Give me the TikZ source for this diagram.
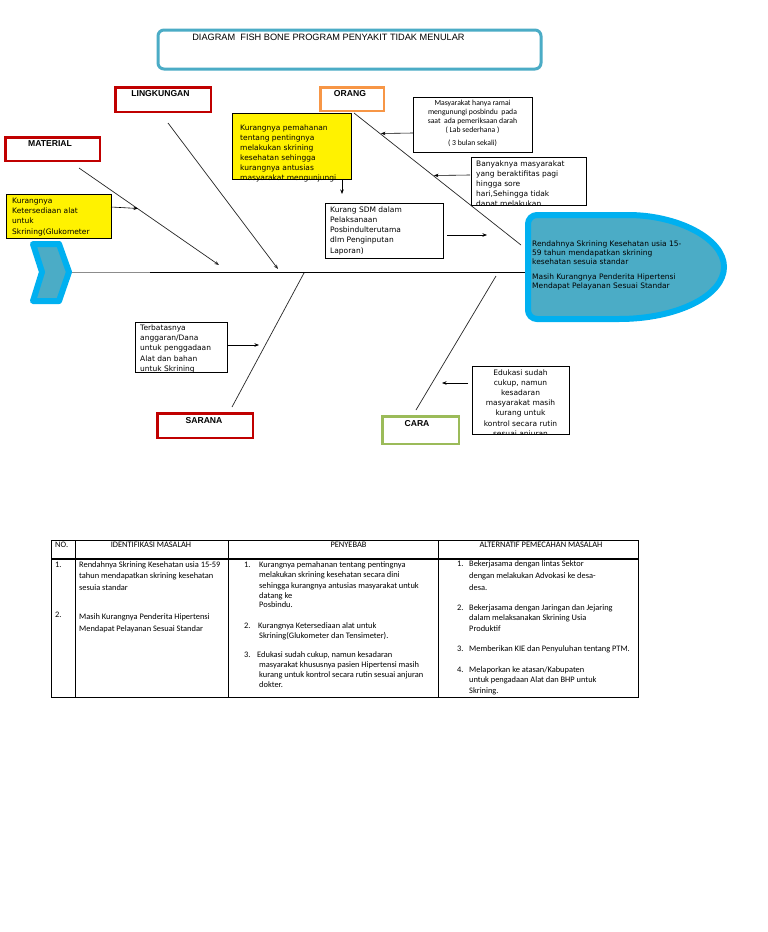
\documentclass[tikz,border=0pt]{standalone}
\usepackage{fontspec}
\setmainfont{DejaVu Sans}
\newfontfamily\arialf{Liberation Sans}
\newfontfamily\calf{Carlito}
\usetikzlibrary{arrows.meta}
\definecolor{titleblue}{HTML}{4BACC6}
\definecolor{catred}{HTML}{C00000}
\definecolor{catorange}{HTML}{F79646}
\definecolor{catgreen}{HTML}{9BBB59}
\definecolor{headfill}{HTML}{4BACC6}
\definecolor{headborder}{HTML}{00B0F0}
\newcommand\txtlines[6]{\foreach \tline [count=\i] in {#6} {\node[#1] (#2\i) at (#3,{#4+(\i-1)*#5}) {\tline};}}
\begin{document}
\begin{tikzpicture}[x=1pt,y=-1pt,
  dv/.style={font=\fontsize{7.5}{9}\selectfont, inner sep=0pt, anchor=base west},
  dvc/.style={dv, anchor=base},
  cal/.style={font=\calf\fontsize{7.7}{9}\selectfont, inner sep=0pt, anchor=base},
  tab/.style={font=\calf\fontsize{8.4}{10}\selectfont, inner sep=0pt, anchor=base west},
  tabc/.style={tab, anchor=base},
  cat/.style={font=\arialf\bfseries\fontsize{8.6}{10}\selectfont, inner sep=0pt},
  catbox/.style={draw, line width=2.6pt, inner sep=0pt, anchor=north west},
  causebox/.style={draw, line width=0.8pt, inner sep=0pt, anchor=north west},
  bone/.style={line width=0.7pt, black!85},
  arr/.style={line width=0.6pt, -{Stealth[length=4.5pt,width=3.5pt]}}
]
\useasboundingbox (0,0) rectangle (768,932);
\fill[white] (0,0) rectangle (768,932);

% ---------- title ----------
\node[draw=titleblue, line width=3pt, rounded corners=6pt, inner sep=0pt, anchor=north west,
      minimum width=383, minimum height=39] (titlebox) at (156.5,28.5) {};
\node[font=\arialf\fontsize{9.2}{10}\selectfont, inner sep=0pt] (title) at (328.5,37.5)
  {DIAGRAM\ \ FISH BONE PROGRAM PENYAKIT TIDAK MENULAR};

% ---------- coordinates ----------
\coordinate (tailtip) at (72,272);
\coordinate (spmid) at (150,272);
\coordinate (headL) at (527,272);
\coordinate (matS) at (79,168);  \coordinate (matE) at (219,265);
\coordinate (linS) at (168,123); \coordinate (linE) at (278,269);
\coordinate (orS) at (354,113);  \coordinate (orE) at (521,245);
\coordinate (saS) at (304,273);  \coordinate (saE) at (232,407);
\coordinate (caS) at (496,276);  \coordinate (caE) at (416,410);

% ---------- spine and bones ----------
\draw[line width=0.6pt, black!45] (tailtip) -- (spmid);
\draw[line width=1pt] (spmid) -- (headL);
\draw[bone, arr, line width=0.7pt] (matS) -- (matE);
\draw[bone, arr, line width=0.7pt] (linS) -- (linE);
\draw[bone] (orS) -- (orE);
\draw[bone] (saS) -- (saE);
\draw[bone] (caS) -- (caE);

% ---------- tail ----------
\filldraw[fill=headfill, draw=headborder, line width=6pt, line join=round]
  (33,244) -- (59,244) -- (69,272) -- (59,301) -- (33,301) -- (42,272) -- cycle;

% ---------- head ----------
\filldraw[fill=headfill, draw=headborder, line width=6pt]
  (619,215) arc[start angle=90, end angle=-90, x radius=105pt, y radius=52pt]
  [rounded corners=9pt] -- (528,319) -- (528,215) -- cycle;
\txtlines{dv}{hd}{532}{246.1}{9.3}{Rendahnya Skrining Kesehatan usia 15-,59 tahun mendapatkan skrining,kesehatan sesuia standar}
\txtlines{dv}{hm}{532}{279.3}{9.3}{Masih Kurangnya Penderita Hipertensi,Mendapat Pelayanan Sesuai Standar}

% ---------- category boxes ----------
\node[catbox, draw=catred, minimum width=95.4, minimum height=24.4] (lingbox) at (114.3,86.3) {};
\node[cat] (lingtxt) at (160.5,93.5) {LINGKUNGAN};
\node[catbox, draw=catred, minimum width=94.4, minimum height=23.4] (matbox) at (4.3,136.3) {};
\node[cat] (mattxt) at (50,143.5) {MATERIAL};
\node[catbox, draw=catorange, minimum width=63.4, minimum height=23.4] (orbox) at (319.3,86.3) {};
\node[cat] (ortxt) at (350,93.5) {ORANG};
\node[catbox, draw=catred, minimum width=95.4, minimum height=24.4] (sabox) at (156.3,412.3) {};
\node[cat] (satxt) at (204,421) {SARANA};
\node[catbox, draw=catgreen, minimum width=76.4, minimum height=27.4] (cabox) at (381.3,415.3) {};
\node[cat] (catxt) at (417,423.5) {CARA};

% ---------- cause boxes ----------
% yellow 1 (ORANG)
\node[causebox, fill=yellow, minimum width=119, minimum height=66] (yel1) at (232,113) {};
\begin{scope}
\clip (232,113) rectangle (351,183);
\txtlines{dv}{ya}{240}{130.3}{10.1}{Kurangnya pemahanan,tentang pentingnya,melakukan skrining,kesehatan sehingga,kurangnya antusias,masyarakat mengunjungi,Posbindu}
\end{scope}
\coordinate (y1a) at (342,179); \coordinate (y1t) at (342,194);
\draw[arr] (y1a) -- (y1t);

% yellow 2 (MATERIAL)
\node[causebox, fill=yellow, minimum width=105, minimum height=44] (yel2) at (6,194) {};
\begin{scope}
\clip (6,194) rectangle (111,238.5);
\txtlines{dv}{yb}{12}{203.3}{10.3}{Kurangnya,Ketersediaan alat,untuk,Skrining(Glukometer}
\end{scope}
\coordinate (y2a) at (111,207); \coordinate (y2t) at (138,208.5);
\draw[arr] (y2a) -- (y2t);

% Masyarakat box
\node[causebox, minimum width=119, minimum height=55] (masy) at (413,97) {};
\txtlines{cal}{ma}{472.5}{105.7}{9}{Masyarakat hanya ramai,mengunungi posbindu\ \ pada,saat\ \ ada pemeriksaan darah,( Lab sederhana )}
\node[cal] (ma5) at (472.5,145) {( 3 bulan sekali)};
\coordinate (maa) at (413,133); \coordinate (mat) at (381,133.5);
\draw[arr] (maa) -- (mat);

% Banyaknya box
\node[causebox, minimum width=115, minimum height=48] (bany) at (471,157) {};
\begin{scope}
\clip (471,157) rectangle (586,205);
\txtlines{dv}{ba}{476}{166.2}{10}{Banyaknya masyarakat,yang beraktifitas pagi,hingga sore,{hari,Sehingga tidak},dapat melakukan}
\end{scope}
\coordinate (baa) at (470,175); \coordinate (bat) at (434,175.5);
\draw[arr] (baa) -- (bat);

% SDM box
\node[causebox, minimum width=118, minimum height=55] (sdm) at (325,203) {};
\txtlines{dv}{sd}{330}{212}{10.3}{Kurang SDM dalam,Pelaksanaan,Posbindulterutama,dlm Penginputan,Laporan)}
\coordinate (sda) at (447,235); \coordinate (sdt) at (487,235);
\draw[arr] (sda) -- (sdt);

% Terbatasnya box
\node[causebox, minimum width=92, minimum height=50] (terb) at (135,322) {};
\begin{scope}
\clip (135,322) rectangle (227,372);
\txtlines{dv}{tb}{140}{330.1}{10.4}{Terbatasnya,anggaran/Dana,untuk penggadaan,Alat dan bahan,untuk Skrining}
\end{scope}
\coordinate (tba) at (228,345); \coordinate (tbt) at (259,345);
\draw[arr] (tba) -- (tbt);

% Edukasi box
\node[causebox, minimum width=97, minimum height=68] (edu) at (472,366) {};
\begin{scope}
\clip (472,366) rectangle (569,434);
\txtlines{dvc}{ed}{520.5}{375.1}{10.2}{Edukasi sudah,{cukup, namun},kesadaran,masyarakat masih,kurang untuk,kontrol secara rutin,sesuai anjuran}
\end{scope}
\coordinate (eda) at (468,383); \coordinate (edt) at (442,383);
\draw[arr] (eda) -- (edt);

% ---------- table ----------
\draw[line width=0.8pt] (51,540) rectangle (638,697);
\draw[line width=0.8pt] (75,540) -- (75,697);
\draw[line width=0.8pt] (228,540) -- (228,697);
\draw[line width=0.8pt] (438,540) -- (438,697);
\draw[line width=1.3pt] (51,559) -- (638,559);

\node[tab] (hno) at (55,547.6) {NO.};
\node[tabc] (hid) at (151,547.6) {IDENTIFIKASI MASALAH};
\node[tabc] (hpe) at (348.5,547.6) {PENYEBAB};
\node[tabc] (hal) at (541,547.6) {ALTERNATIF PEMECAHAN MASALAH};

\node[tab] (n1) at (55,567) {1.};
\node[tab] (n2) at (55,617) {2.};
\txtlines{tab}{ia}{79}{567}{11.5}{Rendahnya Skrining Kesehatan usia 15-59,tahun mendapatkan skrining kesehatan,sesuia standar}
\txtlines{tab}{ib}{79}{619}{12.5}{Masih Kurangnya Penderita Hipertensi,Mendapat Pelayanan Sesuai Standar}

\node[tab] (p1n) at (244,567) {1.};
\txtlines{tab}{pa}{259}{567}{10.5}{Kurangnya pemahanan tentang pentingnya,melakukan skrining kesehatan secara dini,sehingga kurangnya antusias masyarakat untuk}
\node[tab] (pa4) at (259,598) {datang ke};
\node[tab] (pa5) at (259,607) {Posbindu.};
\node[tab] (p2n) at (244,628) {2.};
\node[tab] (pb1) at (250,628) {\hspace{8pt}Kurangnya Ketersediaan alat untuk};
\node[tab] (pb2) at (259,638) {Skrining(Glukometer dan Tensimeter).};
\node[tab] (p3n) at (244,657) {3.};
\node[tab] (pc1) at (250,657) {\hspace{7pt}Edukasi sudah cukup, namun kesadaran};
\txtlines{tab}{pc}{259}{667}{10}{masyarakat khususnya pasien Hipertensi masih,kurang untuk kontrol secara rutin sesuai anjuran,dokter.}

\node[tab] (a1n) at (457,566) {1.};
\txtlines{tab}{aa}{469}{566}{12.2}{Bekerjasama dengan lintas Sektor,dengan melakukan Advokasi ke desa-,desa.}
\node[tab] (a2n) at (457,610) {2.};
\txtlines{tab}{ab}{469}{610}{10.5}{Bekerjasama dengan Jaringan dan Jejaring,dalam melaksanakan Skrining Usia,Produktif}
\node[tab] (a3n) at (457,651) {3.};
\node[tab] (ac1) at (469,651) {Memberikan KIE dan Penyuluhan tentang PTM.};
\node[tab] (a4n) at (457,672) {4.};
\txtlines{tab}{ad}{469}{672}{10.5}{Melaporkan ke atasan/Kabupaten,untuk pengadaan Alat dan BHP untuk,Skrining.}
\end{tikzpicture}
\end{document}
